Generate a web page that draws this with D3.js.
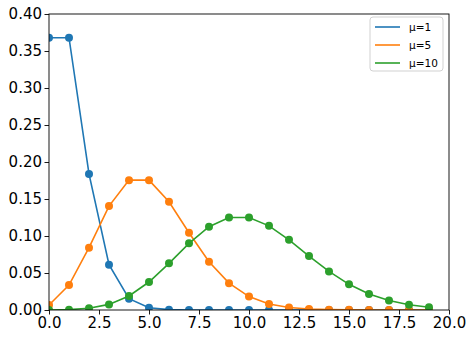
<!DOCTYPE html>
<html>
<head>
<meta charset="utf-8">
<script src="https://cdn.jsdelivr.net/npm/d3@7"></script>
<style>
  body { margin: 0; background: #fff; }
  text { font-family: "DejaVu Sans", sans-serif; fill: #000; }
</style>
</head>
<body>
<svg></svg>
<script>
// k values shown on the x axis
let ks = d3.range(0, 20);

// probabilities
let mu1 = [0.3679, 0.3679, 0.1839, 0.0613, 0.0153, 0.0031, 0.0005, 0.0001, 0, 0,
           0, 0, 0, 0, 0, 0, 0, 0, 0, 0];
let mu5 = [0.0067, 0.0337, 0.0842, 0.1404, 0.1755, 0.1755, 0.1462, 0.1044, 0.0653, 0.0363,
           0.0181, 0.0082, 0.0034, 0.0013, 0.0005, 0.0002, 0.0001, 0, 0, 0];
let mu10 = [0.0000, 0.0005, 0.0023, 0.0076, 0.0189, 0.0378, 0.0631, 0.0901, 0.1126, 0.1251,
            0.1251, 0.1137, 0.0948, 0.0729, 0.0521, 0.0347, 0.0217, 0.0128, 0.0071, 0.0037];

let seriesNames = ['μ=1', 'μ=5', 'μ=10'];
let colors = ['#1f77b4', '#ff7f0e', '#2ca02c'];
let xTicks = [0, 2.5, 5, 7.5, 10, 12.5, 15, 17.5, 20];
let yTicks = [0, 0.05, 0.10, 0.15, 0.20, 0.25, 0.30, 0.35, 0.40];

let width = 474, height = 341,
    margin = {top: 14, right: 25, bottom: 31, left: 49};

let x = d3.scaleLinear().domain([0, 20]).range([margin.left, width - margin.right]),
    y = d3.scaleLinear().domain([0, 0.4]).range([height - margin.bottom, margin.top]);

let svg = d3.select('svg').attr('width', width).attr('height', height);

svg.append('clipPath').attr('id', 'plot')
  .append('rect')
    .attr('x', x(0)).attr('y', y(0.4))
    .attr('width', x(20) - x(0)).attr('height', y(0) - y(0.4));

let line = d3.line().x((d, i) => x(ks[i])).y(d => y(d));

let plot = svg.append('g').attr('clip-path', 'url(#plot)');
[mu1, mu5, mu10].forEach((vals, s) => {
    let g = plot.append('g');
    g.append('path')
      .attr('d', line(vals))
      .attr('fill', 'none')
      .attr('stroke', colors[s])
      .attr('stroke-width', 1.6);
    g.selectAll('circle')
      .data(vals)
      .enter()
      .append('circle')
        .attr('cx', (d, i) => x(ks[i]))
        .attr('cy', d => y(d))
        .attr('r', 4)
        .attr('fill', colors[s]);
});

let xAxis = svg.append('g')
    .attr('transform', `translate(0,${y(0)})`)
    .call(d3.axisBottom(x).tickValues(xTicks).tickFormat(d3.format('.1f')).tickSize(4.5).tickPadding(3));
let yAxis = svg.append('g')
    .attr('transform', `translate(${x(0)},0)`)
    .call(d3.axisLeft(y).tickValues(yTicks).tickFormat(d3.format('.2f')).tickSize(4.5).tickPadding(2.5));

[xAxis, yAxis].forEach(a => {
    a.selectAll('text').attr('font-size', 15).attr('font-family', '"DejaVu Sans", sans-serif').attr('fill', '#000');
    a.selectAll('line').attr('stroke', '#000').attr('stroke-width', 0.9);
    a.select('.domain').remove();
});

// frame
svg.append('rect')
  .attr('x', x(0)).attr('y', y(0.4))
  .attr('width', x(20) - x(0)).attr('height', y(0) - y(0.4))
  .attr('fill', 'none').attr('stroke', '#000').attr('stroke-width', 0.9);

// legend
let lg = svg.append('g').attr('transform', 'translate(370,17)');
lg.append('rect')
  .attr('width', 73).attr('height', 54).attr('rx', 3)
  .attr('fill', '#fff').attr('fill-opacity', 0.8)
  .attr('stroke', '#ccc').attr('stroke-width', 0.9);
seriesNames.forEach((name, i) => {
    let yy = 10 + i * 18;
    lg.append('line')
      .attr('x1', 5).attr('x2', 30).attr('y1', yy).attr('y2', yy)
      .attr('stroke', colors[i]).attr('stroke-width', 1.6);
    lg.append('text')
      .attr('x', 39).attr('y', yy).attr('dy', '0.35em')
      .attr('font-size', 10.5)
      .text(name);
});
</script>
</body>
</html>
